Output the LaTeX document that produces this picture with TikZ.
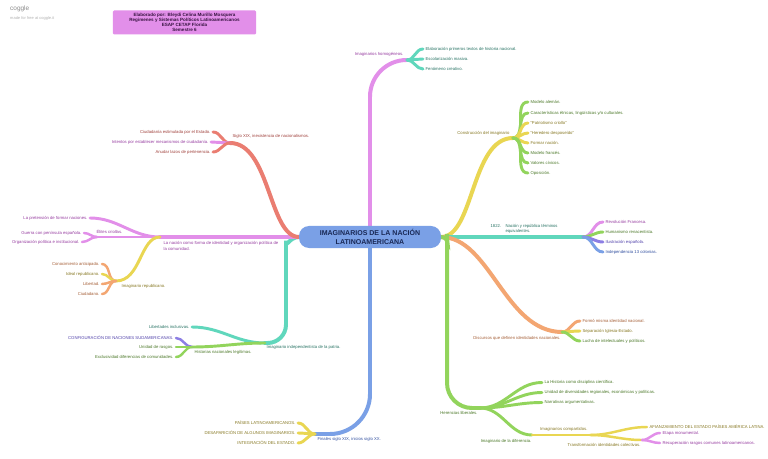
\documentclass[tikz,border=0pt]{standalone}
\usepackage{fontspec}
\setmainfont{Liberation Sans}
\usetikzlibrary{positioning}
\definecolor{pinkb}{RGB}{226,143,233}
\definecolor{tealb}{RGB}{96,215,188}
\definecolor{yellowb}{RGB}{233,214,82}
\definecolor{greenb}{RGB}{146,212,92}
\definecolor{orangeb}{RGB}{243,166,114}
\definecolor{redb}{RGB}{234,125,113}
\definecolor{blueb}{RGB}{122,160,230}
\definecolor{violetb}{RGB}{140,126,228}
\definecolor{pinkt}{RGB}{150,60,160}
\definecolor{tealt}{RGB}{40,115,100}
\definecolor{yellowt}{RGB}{135,120,35}
\definecolor{greent}{RGB}{75,120,40}
\definecolor{oranget}{RGB}{165,95,55}
\definecolor{redt}{RGB}{160,65,60}
\definecolor{bluet}{RGB}{50,80,160}
\definecolor{violett}{RGB}{80,65,170}
\definecolor{roott}{RGB}{25,40,85}
\definecolor{headt}{RGB}{55,20,65}
\newcommand{\lf}{\fontsize{3.6pt}{4.2pt}\selectfont}
\tikzset{
    rootnode/.style = {rectangle, rounded corners=0.3cm, fill=blueb, text=roott, align=center, inner sep=0pt,
                       minimum width=4.26cm, minimum height=0.66cm, font=\fontsize{6pt}{7.9pt}\selectfont\bfseries},
    headbox/.style = {rectangle, rounded corners=1pt, fill=pinkb, text=headt, align=center, inner sep=0pt,
                      minimum width=4.29cm, minimum height=0.72cm, font=\fontsize{3.9pt}{4.25pt}\selectfont\bfseries},
    leaf/.style = {inner sep=0pt, inner xsep=2pt, font=\lf},
    txtp/.style = {leaf, text=pinkt},
    txtt/.style = {leaf, text=tealt},
    txty/.style = {leaf, text=yellowt},
    txtg/.style = {leaf, text=greent},
    txto/.style = {leaf, text=oranget},
    txtr/.style = {leaf, text=redt},
    txtb/.style = {leaf, text=bluet},
    txtv/.style = {leaf, text=violett},
    edgep/.style = {line width=2.5pt, line cap=round, draw=pinkb},
    edget/.style = {line width=2.5pt, line cap=round, draw=tealb},
    edgey/.style = {line width=2.5pt, line cap=round, draw=yellowb},
    edgeg/.style = {line width=2.5pt, line cap=round, draw=greenb},
    edgeo/.style = {line width=2.5pt, line cap=round, draw=orangeb},
    edger/.style = {line width=2.5pt, line cap=round, draw=redb},
    edgeb/.style = {line width=2.5pt, line cap=round, draw=blueb},
    edgev/.style = {line width=2.5pt, line cap=round, draw=violetb},
    trunk/.style = {line width=3.4pt},
    twig/.style = {line width=2.1pt},
}

\begin{document}
\begin{tikzpicture}[x=0.03cm, y=-0.03cm]
\path[use as bounding box, fill=white] (0,0) rectangle (768,459);
\node[anchor=west, inner sep=0pt, text=black!45, font=\fontsize{5.5pt}{6pt}\selectfont] at (10,9) (cog) {coggle};
\node[anchor=west, inner sep=0pt, text=black!30, font=\fontsize{3.4pt}{4pt}\selectfont] at (10,18) (made) {made for free at coggle.it};
\node[headbox] at (184.5,22.5) (head) {Elaborado por: Bleydi Celina Murillo Mosquera\\Regimenes y Sistemas Políticos Latinoamericanos\\ESAP CETAP Florida\\Semestre 6};
%
\coordinate (hom) at (407,60);
\coordinate (con) at (513,138);
\coordinate (nac22) at (583,237);
\coordinate (dis) at (562,332);
\coordinate (her) at (480,408);
\coordinate (dif) at (532,435);
\coordinate (com) at (590,435);
\coordinate (tra) at (642,440);
\coordinate (fin) at (315,434);
\coordinate (ind) at (265,343);
\coordinate (his) at (192,347);
\coordinate (nac) at (160,237);
\coordinate (eli) at (97,237);
\coordinate (imr) at (116,281);
\coordinate (sig) at (230,143);
%
\node[txtp, anchor=east] at (406,54) (thom) {Imaginarios homogéneos.};
\node[txtt, anchor=west] at (423,49) (hom1) {Elaboración primeros textos de historia nacional.};
\node[txtt, anchor=west] at (423,59) (hom2) {Escolarización masiva.};
\node[txtt, anchor=west] at (423,69) (hom3) {Fenómeno creativo.};
%
\node[txty, anchor=east] at (512,133) (tcon) {Construcción del imaginario};
\node[txtg, anchor=west] at (528,102) (con1) {Modelo alemán.};
\node[txtg, anchor=west] at (528,113) (con2) {Características étnicas, lingüísticas y/o culturales.};
\node[txty, anchor=west] at (528,123) (con3) {“Patriotismo criollo”};
\node[txty, anchor=west] at (528,133) (con4) {“Heredero desposeído”};
\node[txty, anchor=west] at (528,143) (con5) {Formar nación.};
\node[txtg, anchor=west] at (528,153) (con6) {Modelo francés.};
\node[txtg, anchor=west] at (528,163) (con7) {Valores cívicos.};
\node[txtg, anchor=west] at (528,173) (con8) {Oposición.};
%
\node[txtt, anchor=west, align=left, font=\fontsize{3.6pt}{4.4pt}\selectfont] at (488,228.5) (t1822) {1822.\hspace{3.75pt}Nación y república términos\\\hspace*{12.75pt}equivalentes.};
\node[txtp, anchor=west] at (603,222) (rev1) {Revolución Francesa.};
\node[txtg, anchor=west] at (603,232) (rev2) {Humanismo renacentista.};
\node[txtv, anchor=west] at (603,242) (rev3) {Ilustración española.};
\node[txtb, anchor=west] at (603,252) (rev4) {Independencia 13 colonias.};
%
\node[txto, anchor=east] at (563,338) (tdis) {Discursos que definen identidades nacionales.};
\node[txto, anchor=west] at (580,321) (dis1) {Formó misma identidad nacional.};
\node[txty, anchor=west] at (580,331) (dis2) {Separación Iglesia-Estado.};
\node[txtg, anchor=west] at (580,341) (dis3) {Lucha de intelectuales y políticos.};
%
\node[txtg, anchor=east] at (480,413) (ther) {Herencias liberales.};
\node[txtg, anchor=west] at (542,382.5) (her1) {La Historia como disciplina científica.};
\node[txtg, anchor=west] at (542,392.5) (her2) {Unidad de diversidades regionales, económicas y políticas.};
\node[txtg, anchor=west] at (542,402.5) (her3) {Narrativas argumentativas.};
\node[txtg, anchor=east] at (534,441) (tdif) {Imaginario de la diferencia.};
\node[txty, anchor=east] at (590,429) (tcom) {Imaginarios compartidos.};
\node[txty, anchor=west] at (647,427) (com1) {AFIANZAMIENTO DEL ESTADO PAÍSES AMÉRICA LATINA.};
\node[txty, anchor=east] at (643,445) (ttra) {Transformación identidades colectivas.};
\node[txtp, anchor=west] at (660,433) (tra1) {Etapa monumental.};
\node[txtp, anchor=west] at (660,443) (tra2) {Recuperación rasgos comunes latinoamericanos.};
%
\node[txtb, anchor=west] at (315,439) (tfin) {Finales siglo XIX, inicios siglo XX.};
\node[txty, anchor=east] at (298,423) (fin1) {PAÍSES LATINOAMERICANOS.};
\node[txty, anchor=east] at (298,433) (fin2) {DESAPARICIÓN DE ALGUNOS IMAGINARIOS.};
\node[txty, anchor=east] at (298,443) (fin3) {INTEGRACIÓN DEL ESTADO.};
%
\node[txtt, anchor=west] at (264,347) (tind) {Imaginario independentista de la patria.};
\node[txtt, anchor=east] at (192,327) (lib) {Libertades inclusivas.};
\node[txtg, anchor=west] at (192,352) (this) {Historias nacionales legítimas.};
\node[txtv, anchor=east] at (176,338) (his1) {CONFIGURACIÓN DE NACIONES SUDAMERICANAS.};
\node[txtg, anchor=east] at (176,347) (his2) {Unidad de rasgos.};
\node[txtg, anchor=east] at (176,357) (his3) {Exclusividad diferencias de comunidades.};
%
\node[txtp, anchor=west, align=left, font=\fontsize{3.6pt}{5.1pt}\selectfont] at (161,246) (tnac) {La nación como forma de identidad y organización política de\\la comunidad.};
\node[txtp, anchor=east] at (90,218) (pre) {La pretensión de formar naciones.};
\node[txtp, anchor=west] at (94,232) (teli) {Élites criollas.};
\node[txtp, anchor=east] at (84,233) (eli1) {Guerra con península española.};
\node[txtp, anchor=east] at (82,242) (eli2) {Organización política e institucional.};
\node[txty, anchor=west] at (119,286) (timr) {Imaginario republicano.};
\node[txto, anchor=east] at (102,264) (imr1) {Conocimiento anticipado.};
\node[txty, anchor=east] at (102,274) (imr2) {Ideal republicano.};
\node[txto, anchor=east] at (102,284) (imr3) {Libertad.};
\node[txto, anchor=east] at (102,294) (imr4) {Ciudadano.};
%
\node[txtr, anchor=west] at (230,136) (tsig) {Siglo XIX, inexistencia de nacionalismos.};
\node[txtr, anchor=east] at (213,132) (sig1) {Ciudadanía estimulada por el Estado.};
\node[txtp, anchor=east] at (211,142) (sig2) {Intentos por establecer mecanismos de ciudadanía.};
\node[txtr, anchor=east] at (213,152) (sig3) {Anudar lazos de pertenencia.};
%
\draw[edgep, trunk, rounded corners=1.1cm] (370,237) |- (hom);
\draw[edget] (hom) to[out=0,in=180] (hom1.west);
\draw[edget] (hom) -- (hom2.west);
\draw[edget] (hom) to[out=0,in=180] (hom3.west);
\draw[edgey, trunk] (441,237) .. controls +(33,0) and +(-42,0) .. (con);
\foreach \n/\s in {1/edgeg,2/edgeg,3/edgey,4/edgey,5/edgey,6/edgeg,7/edgeg,8/edgeg}
    \draw[\s] (con) to[out=0,in=180] (con\n.west);
\draw[edget, trunk] (441,237) -- (nac22);
\foreach \n/\s in {1/edgep,2/edgeg,3/edgev,4/edgeb}
    \draw[\s] (nac22) to[out=0,in=180] (rev\n.west);
\draw[edgeo, trunk] (441,237) .. controls +(49,0) and +(-57,0) .. (dis);
\foreach \n/\s in {1/edgeo,2/edgey,3/edgeg}
    \draw[\s] (dis) to[out=0,in=180] (dis\n.west);
\draw[edgeg, trunk, rounded corners=0.75cm] (441,237) to[out=0,in=90] ++(6,22) |- (her);
\foreach \n in {1,2,3}
    \draw[edgeg] (her) to[out=0,in=180] (her\n.west);
\draw[edgeg] (her) to[out=0,in=180] (dif);
\draw[edgey] (dif) -- (com);
\draw[edgey, twig] (com) to[out=0,in=180] (com1.west);
\draw[edgey, twig] (com) to[out=0,in=180] (tra);
\draw[edgep, twig] (tra) to[out=0,in=180] (tra1.west);
\draw[edgep, twig] (tra) to[out=0,in=180] (tra2.west);
\draw[edgeb, trunk, rounded corners=1.2cm] (370,237) |- (fin);
\foreach \n in {1,2,3}
    \draw[edgey] (fin) to[out=180,in=0] (fin\n.east);
\draw[edget, trunk, rounded corners=0.55cm] (299,237) to[out=180,in=90] ++(-13,22) |- (ind);
\draw[edget] (ind) to[out=180,in=0] (lib.east);
\draw[edgeg] (ind) to[out=180,in=0] (his);
\draw[edgev, twig] (his) to[out=180,in=0] (his1.east);
\draw[edgeg, twig] (his) -- (his2.east);
\draw[edgeg, twig] (his) to[out=180,in=0] (his3.east);
\draw[edgep, trunk] (299,237) -- (nac);
\draw[edgep] (nac) to[out=180,in=0] (pre.east);
\draw[edgep] (nac) -- (eli);
\draw[edgep, twig] (eli) to[out=180,in=0] (eli1.east);
\draw[edgep, twig] (eli) to[out=180,in=0] (eli2.east);
\draw[edgey] (nac) .. controls +(-20,0) and +(25,0) .. (imr);
\foreach \n/\s in {1/edgeo,2/edgey,3/edgeo,4/edgeo}
    \draw[\s, twig] (imr) to[out=180,in=0] (imr\n.east);
\draw[edger, trunk] (299,237) .. controls +(-30,0) and +(40,0) .. (sig);
\draw[edger] (sig) to[out=180,in=0] (sig1.east);
\draw[edgep] (sig) -- (sig2.east);
\draw[edger] (sig) to[out=180,in=0] (sig3.east);
%
\node[rootnode] at (370,237) (root) {IMAGINARIOS DE LA NACIÓN\\LATINOAMERICANA};
\end{tikzpicture}
\end{document}
